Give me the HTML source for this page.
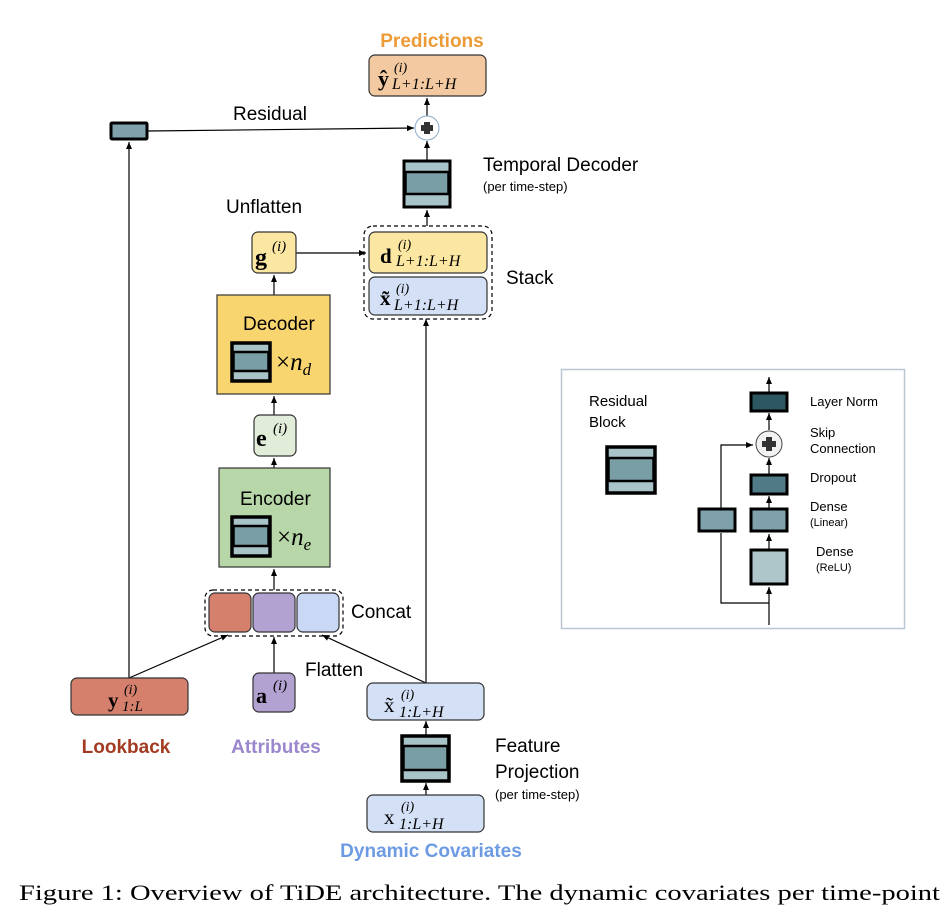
<!DOCTYPE html>
<html><head><meta charset="utf-8"><style>
html,body{margin:0;padding:0;background:#fff;width:940px;height:920px;overflow:hidden}
svg{display:block}
.s{font-family:"Liberation Sans",sans-serif}
.m{font-family:"Liberation Serif",serif}
</style></head><body>
<svg width="940" height="920" viewBox="0 0 940 920" xmlns="http://www.w3.org/2000/svg">
<defs>
<marker id="a" markerWidth="8" markerHeight="8" refX="7" refY="4" orient="auto" markerUnits="userSpaceOnUse">
<path d="M0,1 L7,4 L0,7 Z" fill="#000"/></marker>
</defs>
<g stroke="#000" stroke-width="1.2" fill="none">
<line x1="129" y1="680" x2="129" y2="142" marker-end="url(#a)"/>
<line x1="148" y1="131" x2="414" y2="128" marker-end="url(#a)"/>
<line x1="427" y1="117" x2="427" y2="98" marker-end="url(#a)"/>
<line x1="427" y1="160" x2="427" y2="141" marker-end="url(#a)"/>
<line x1="427" y1="226" x2="427" y2="210" marker-end="url(#a)"/>
<line x1="296" y1="253" x2="366" y2="253" marker-end="url(#a)"/>
<line x1="274" y1="295" x2="274" y2="275" marker-end="url(#a)"/>
<line x1="274" y1="415" x2="274" y2="396" marker-end="url(#a)"/>
<line x1="274" y1="468" x2="274" y2="458" marker-end="url(#a)"/>
<line x1="274" y1="590" x2="274" y2="569" marker-end="url(#a)"/>
<line x1="129" y1="678" x2="228" y2="635" marker-end="url(#a)"/>
<line x1="274" y1="673" x2="274" y2="637" marker-end="url(#a)"/>
<line x1="426" y1="683" x2="322" y2="635" marker-end="url(#a)"/>
<line x1="426" y1="683" x2="426" y2="319" marker-end="url(#a)"/>
<line x1="426" y1="735" x2="426" y2="721" marker-end="url(#a)"/>
<line x1="426" y1="795" x2="426" y2="783" marker-end="url(#a)"/>
</g>
<rect x="111" y="123" width="36" height="16" fill="#7fa1ab" stroke="#000" stroke-width="3" rx="1"/>
<text x="432" y="47" class="s" font-size="19" font-weight="bold" fill="#ec9a34" text-anchor="middle">Predictions</text>
<rect x="369" y="55" width="117" height="41" rx="6" fill="#f2c9a0" stroke="#333" stroke-width="1.2"/>
<text x="378" y="86" class="m" font-size="22" font-weight="bold">ŷ</text>
<text x="394" y="72" class="m" font-size="14" font-style="italic">(i)</text>
<text x="392" y="89" class="m" font-size="16" font-style="italic">L+1:L+H</text>
<circle cx="427" cy="128" r="12" fill="#fff" stroke="#8aa8cc" stroke-width="1"/>
<path d="M424,122h6v3h3v6h-3v3h-6v-3h-3v-6h3z" fill="#333"/>
<text x="233" y="120" class="s" font-size="19">Residual</text>
<g transform="translate(404,161)">
<rect x="0" y="0" width="46" height="46" fill="#a9c4c8" stroke="#000" stroke-width="3"/>
<rect x="1.5" y="11" width="43" height="22" fill="#7a9ea6" stroke="#000" stroke-width="2.5"/>
</g>
<text x="483" y="171" class="s" font-size="19">Temporal Decoder</text>
<text x="483" y="191" class="s" font-size="13">(per time-step)</text>
<text x="226" y="213" class="s" font-size="19">Unflatten</text>
<rect x="364" y="226" width="128" height="93" rx="9" fill="none" stroke="#000" stroke-width="1.2" stroke-dasharray="4,3"/>
<rect x="369" y="232" width="118" height="41" rx="6" fill="#fbe6a2" stroke="#333" stroke-width="1.2"/>
<text x="380" y="263" class="m" font-size="21" font-weight="bold">d</text>
<text x="398" y="249" class="m" font-size="14" font-style="italic">(i)</text>
<text x="396" y="266" class="m" font-size="16" font-style="italic">L+1:L+H</text>
<rect x="369" y="277" width="118" height="38" rx="6" fill="#d3e0f5" stroke="#333" stroke-width="1.2"/>
<text x="380" y="305" class="m" font-size="21" font-weight="bold">x̃</text>
<text x="396" y="293" class="m" font-size="14" font-style="italic">(i)</text>
<text x="394" y="310" class="m" font-size="16" font-style="italic">L+1:L+H</text>
<text x="506" y="284" class="s" font-size="19">Stack</text>
<rect x="252" y="232" width="44" height="41" rx="6" fill="#fbe6a2" stroke="#333" stroke-width="1.2"/>
<text x="255" y="265" class="m" font-size="24" font-weight="bold">g</text>
<text x="272" y="251" class="m" font-size="15" font-style="italic">(i)</text>
<rect x="217" y="295" width="113" height="99" fill="#f9d570" stroke="#333" stroke-width="1.2"/>
<text x="243" y="330" class="s" font-size="19">Decoder</text>
<g transform="translate(232,343)">
<rect x="0" y="0" width="38" height="38" fill="#a9c4c8" stroke="#000" stroke-width="3.5"/>
<rect x="1.5" y="9" width="35" height="19" fill="#7a9ea6" stroke="#000" stroke-width="2.5"/>
</g>
<text x="276" y="370" class="m" font-size="25">×<tspan font-style="italic">n</tspan><tspan font-size="17" font-style="italic" dy="5">d</tspan></text>
<rect x="254" y="415" width="42" height="41" rx="6" fill="#e1ecd9" stroke="#333" stroke-width="1.2"/>
<text x="256" y="446" class="m" font-size="24" font-weight="bold">e</text>
<text x="273" y="433" class="m" font-size="15" font-style="italic">(i)</text>
<rect x="219" y="468" width="111" height="99" fill="#b8d7a8" stroke="#333" stroke-width="1.2"/>
<text x="240" y="505" class="s" font-size="19">Encoder</text>
<g transform="translate(232,517)">
<rect x="0" y="0" width="38" height="39" fill="#a9c4c8" stroke="#000" stroke-width="3.5"/>
<rect x="1.5" y="9" width="35" height="20" fill="#7a9ea6" stroke="#000" stroke-width="2.5"/>
</g>
<text x="277" y="545" class="m" font-size="25">×<tspan font-style="italic">n</tspan><tspan font-size="17" font-style="italic" dy="5">e</tspan></text>
<rect x="205" y="590" width="138" height="46" rx="8" fill="none" stroke="#000" stroke-width="1.2" stroke-dasharray="4,3"/>
<rect x="209" y="593" width="42" height="39" rx="6" fill="#d4806c" stroke="#333" stroke-width="1.2"/>
<rect x="253" y="593" width="42" height="39" rx="6" fill="#b1a2d1" stroke="#333" stroke-width="1.2"/>
<rect x="297" y="593" width="42" height="39" rx="6" fill="#c9d9f5" stroke="#333" stroke-width="1.2"/>
<text x="351" y="618" class="s" font-size="19">Concat</text>
<text x="305" y="676" class="s" font-size="19">Flatten</text>
<rect x="71" y="678" width="117" height="37" rx="6" fill="#d4806c" stroke="#333" stroke-width="1.2"/>
<text x="108" y="707" class="m" font-size="21" font-weight="bold">y</text>
<text x="124" y="694" class="m" font-size="14" font-style="italic">(i)</text>
<text x="122" y="711" class="m" font-size="15" font-style="italic">1:L</text>
<text x="126" y="753" class="s" font-size="19" font-weight="bold" fill="#a33b22" text-anchor="middle">Lookback</text>
<rect x="253" y="673" width="42" height="39" rx="6" fill="#b1a2d1" stroke="#333" stroke-width="1.2"/>
<text x="256" y="703" class="m" font-size="22" font-weight="bold">a</text>
<text x="273" y="690" class="m" font-size="15" font-style="italic">(i)</text>
<text x="276" y="753" class="s" font-size="19" font-weight="bold" fill="#9b87cc" text-anchor="middle">Attributes</text>
<rect x="367" y="683" width="117" height="37" rx="6" fill="#d3e0f5" stroke="#333" stroke-width="1.2"/>
<text x="384" y="712" class="m" font-size="21">x̃</text>
<text x="401" y="699" class="m" font-size="14" font-style="italic">(i)</text>
<text x="399" y="717" class="m" font-size="16" font-style="italic">1:L+H</text>
<g transform="translate(402,736)">
<rect x="0" y="0" width="47" height="45" fill="#a9c4c8" stroke="#000" stroke-width="3.5"/>
<rect x="1.5" y="10" width="44" height="24" fill="#7a9ea6" stroke="#000" stroke-width="2.5"/>
</g>
<text x="495" y="752" class="s" font-size="19">Feature</text>
<text x="495" y="778" class="s" font-size="19">Projection</text>
<text x="495" y="799" class="s" font-size="13">(per time-step)</text>
<rect x="367" y="795" width="117" height="37" rx="6" fill="#d3e0f5" stroke="#333" stroke-width="1.2"/>
<text x="384" y="824" class="m" font-size="21">x</text>
<text x="401" y="811" class="m" font-size="14" font-style="italic">(i)</text>
<text x="399" y="829" class="m" font-size="16" font-style="italic">1:L+H</text>
<text x="431" y="857" class="s" font-size="19" font-weight="bold" fill="#6d9be3" text-anchor="middle">Dynamic Covariates</text>
<rect x="561.5" y="369.5" width="343" height="259" fill="#fff" stroke="#b9c6d6" stroke-width="1.5"/>
<text x="589" y="406" class="s" font-size="15">Residual</text>
<text x="589" y="427" class="s" font-size="15">Block</text>
<g transform="translate(607,447)">
<rect x="0" y="0" width="48" height="46" fill="#a9c4c8" stroke="#000" stroke-width="3.5"/>
<rect x="1.5" y="11" width="45" height="23" fill="#7a9ea6" stroke="#000" stroke-width="2.5"/>
</g>
<g stroke="#000" stroke-width="1.2" fill="none">
<line x1="769" y1="625" x2="769" y2="587" marker-end="url(#a)"/>
<polyline points="769,603 721,603 721,533"/>
<polyline points="721,508 721,445 753,445" marker-end="url(#a)"/>
<line x1="769" y1="549" x2="769" y2="534" marker-end="url(#a)"/>
<line x1="769" y1="508" x2="769" y2="496" marker-end="url(#a)"/>
<line x1="769" y1="474" x2="769" y2="458" marker-end="url(#a)"/>
<line x1="769" y1="430" x2="769" y2="413" marker-end="url(#a)"/>
<line x1="769" y1="392" x2="769" y2="377" marker-end="url(#a)"/>
</g>
<rect x="751" y="393" width="36" height="18" fill="#2c5660" stroke="#000" stroke-width="3"/>
<circle cx="769" cy="444" r="13" fill="#f2f2f2" stroke="#444" stroke-width="1"/>
<path d="M766,437h6v4h4v6h-4v4h-6v-4h-4v-6h4z" fill="#333"/>
<rect x="751" y="475" width="36" height="19" fill="#4f7a86" stroke="#000" stroke-width="3"/>
<rect x="751" y="509" width="36" height="22" fill="#7fa1ab" stroke="#000" stroke-width="3"/>
<rect x="699" y="509" width="36" height="22" fill="#7fa1ab" stroke="#000" stroke-width="3"/>
<rect x="751" y="550" width="36" height="34" fill="#aec5c9" stroke="#000" stroke-width="3"/>
<g class="s" font-size="13">
<text x="810" y="406">Layer Norm</text>
<text x="810" y="437">Skip</text>
<text x="810" y="453">Connection</text>
<text x="810" y="482">Dropout</text>
<text x="810" y="511">Dense</text>
</g>
<text x="810" y="526" class="s" font-size="11">(Linear)</text>
<text x="816" y="556" class="s" font-size="13">Dense</text>
<text x="816" y="571" class="s" font-size="11">(ReLU)</text>
<text x="19" y="900" class="m" font-size="22" textLength="921" lengthAdjust="spacingAndGlyphs">Figure 1: Overview of TiDE architecture. The dynamic covariates per time-point</text>
</svg>
</body></html>
